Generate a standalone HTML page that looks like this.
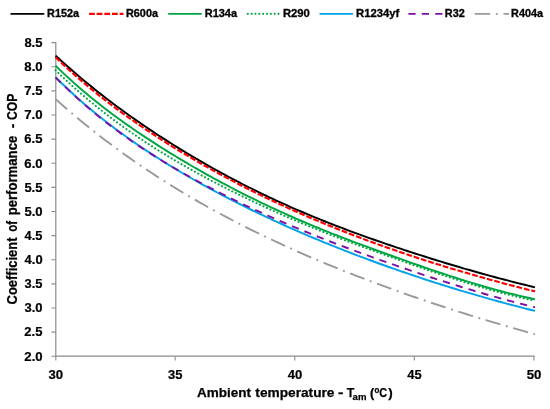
<!DOCTYPE html>
<html><head><meta charset="utf-8"><title>COP vs ambient temperature</title>
<style>
html,body{margin:0;padding:0;background:#fff;}
svg{display:block;}
text{font-family:"Liberation Sans",sans-serif;font-weight:bold;fill:#000;}
</style></head><body>
<svg xmlns="http://www.w3.org/2000/svg" width="550" height="409" viewBox="0 0 550 409">
<rect width="550" height="409" fill="#fff"/>
<g>
<path d="M55.80 42.10 V356.20 H534.60" fill="none" stroke="#8c8c8c" stroke-width="1.2"/>
<path d="M55.80 42.60 h-4.4 M55.80 66.72 h-4.4 M55.80 90.85 h-4.4 M55.80 114.97 h-4.4 M55.80 139.09 h-4.4 M55.80 163.22 h-4.4 M55.80 187.34 h-4.4 M55.80 211.46 h-4.4 M55.80 235.58 h-4.4 M55.80 259.71 h-4.4 M55.80 283.83 h-4.4 M55.80 307.95 h-4.4 M55.80 332.08 h-4.4 M55.80 356.20 h-4.4 M55.80 356.20 v4.4 M175.17 356.20 v4.4 M294.75 356.20 v4.4 M414.32 356.20 v4.4 M533.90 356.20 v4.4 " fill="none" stroke="#8c8c8c" stroke-width="1.1"/>
</g>
<g>
<path d="M55.60 55.60 L59.05 58.78 L62.50 61.92 L65.95 65.01 L69.40 68.07 L72.84 71.09 L76.29 74.06 L79.74 77.00 L83.19 79.90 L86.64 82.76 L90.09 85.59 L93.54 88.38 L96.99 91.14 L100.44 93.86 L103.88 96.55 L107.33 99.21 L110.78 101.84 L114.23 104.43 L117.68 107.00 L121.13 109.53 L124.58 112.04 L128.03 114.52 L131.48 116.97 L134.93 119.39 L138.37 121.79 L141.82 124.17 L145.27 126.52 L148.72 128.85 L152.17 131.15 L155.62 133.44 L159.07 135.70 L162.52 137.94 L165.97 140.16 L169.41 142.35 L172.86 144.53 L176.31 146.68 L179.76 148.81 L183.21 150.93 L186.66 153.02 L190.11 155.09 L193.56 157.14 L197.01 159.16 L200.45 161.17 L203.90 163.16 L207.35 165.13 L210.80 167.08 L214.25 169.01 L217.70 170.92 L221.15 172.81 L224.60 174.68 L228.05 176.53 L231.49 178.36 L234.94 180.18 L238.39 181.97 L241.84 183.75 L245.29 185.51 L248.74 187.25 L252.19 188.97 L255.64 190.67 L259.09 192.36 L262.54 194.03 L265.98 195.68 L269.43 197.32 L272.88 198.93 L276.33 200.53 L279.78 202.12 L283.23 203.68 L286.68 205.23 L290.13 206.77 L293.58 208.29 L297.02 209.79 L300.47 211.27 L303.92 212.74 L307.37 214.20 L310.82 215.64 L314.27 217.06 L317.72 218.47 L321.17 219.87 L324.62 221.25 L328.06 222.61 L331.51 223.97 L334.96 225.31 L338.41 226.63 L341.86 227.95 L345.31 229.25 L348.76 230.54 L352.21 231.82 L355.66 233.09 L359.11 234.35 L362.55 235.59 L366.00 236.83 L369.45 238.05 L372.90 239.27 L376.35 240.48 L379.80 241.68 L383.25 242.87 L386.70 244.05 L390.15 245.22 L393.59 246.39 L397.04 247.55 L400.49 248.70 L403.94 249.84 L407.39 250.98 L410.84 252.10 L414.29 253.22 L417.74 254.34 L421.19 255.44 L424.63 256.54 L428.08 257.62 L431.53 258.71 L434.98 259.78 L438.43 260.84 L441.88 261.90 L445.33 262.95 L448.78 263.99 L452.23 265.02 L455.67 266.05 L459.12 267.06 L462.57 268.07 L466.02 269.07 L469.47 270.06 L472.92 271.05 L476.37 272.02 L479.82 272.99 L483.27 273.95 L486.72 274.90 L490.16 275.85 L493.61 276.78 L497.06 277.71 L500.51 278.62 L503.96 279.53 L507.41 280.43 L510.86 281.33 L514.31 282.21 L517.76 283.09 L521.20 283.95 L524.65 284.81 L528.10 285.66 L531.55 286.50 L535.00 287.33" fill="none" stroke="#000000" stroke-width="1.95" stroke-linejoin="round"/>
<path d="M55.60 57.30 L59.05 60.61 L62.50 63.87 L65.95 67.08 L69.40 70.24 L72.84 73.34 L76.29 76.40 L79.74 79.40 L83.19 82.36 L86.64 85.28 L90.09 88.15 L93.54 90.97 L96.99 93.76 L100.44 96.50 L103.88 99.20 L107.33 101.87 L110.78 104.50 L114.23 107.09 L117.68 109.65 L121.13 112.17 L124.58 114.66 L128.03 117.13 L131.48 119.56 L134.93 121.96 L138.37 124.34 L141.82 126.68 L145.27 129.01 L148.72 131.31 L152.17 133.59 L155.62 135.85 L159.07 138.08 L162.52 140.29 L165.97 142.49 L169.41 144.66 L172.86 146.81 L176.31 148.94 L179.76 151.05 L183.21 153.14 L186.66 155.21 L190.11 157.26 L193.56 159.29 L197.01 161.30 L200.45 163.29 L203.90 165.26 L207.35 167.21 L210.80 169.15 L214.25 171.06 L217.70 172.96 L221.15 174.84 L224.60 176.70 L228.05 178.54 L231.49 180.37 L234.94 182.18 L238.39 183.97 L241.84 185.75 L245.29 187.50 L248.74 189.25 L252.19 190.97 L255.64 192.68 L259.09 194.37 L262.54 196.05 L265.98 197.71 L269.43 199.36 L272.88 200.99 L276.33 202.60 L279.78 204.20 L283.23 205.79 L286.68 207.36 L290.13 208.92 L293.58 210.46 L297.02 211.99 L300.47 213.51 L303.92 215.01 L307.37 216.50 L310.82 217.98 L314.27 219.44 L317.72 220.89 L321.17 222.33 L324.62 223.75 L328.06 225.17 L331.51 226.57 L334.96 227.95 L338.41 229.33 L341.86 230.70 L345.31 232.05 L348.76 233.39 L352.21 234.72 L355.66 236.04 L359.11 237.34 L362.55 238.64 L366.00 239.92 L369.45 241.20 L372.90 242.46 L376.35 243.71 L379.80 244.95 L383.25 246.18 L386.70 247.40 L390.15 248.61 L393.59 249.82 L397.04 251.01 L400.49 252.19 L403.94 253.36 L407.39 254.52 L410.84 255.67 L414.29 256.81 L417.74 257.94 L421.19 259.07 L424.63 260.18 L428.08 261.28 L431.53 262.38 L434.98 263.46 L438.43 264.54 L441.88 265.61 L445.33 266.67 L448.78 267.72 L452.23 268.76 L455.67 269.79 L459.12 270.82 L462.57 271.84 L466.02 272.84 L469.47 273.84 L472.92 274.84 L476.37 275.82 L479.82 276.79 L483.27 277.76 L486.72 278.72 L490.16 279.67 L493.61 280.62 L497.06 281.56 L500.51 282.48 L503.96 283.41 L507.41 284.32 L510.86 285.23 L514.31 286.13 L517.76 287.02 L521.20 287.91 L524.65 288.79 L528.10 289.66 L531.55 290.52 L535.00 291.38" fill="none" stroke="#FF0000" stroke-width="2.1" stroke-linejoin="round" stroke-dasharray="5.74 1.91"/>
<path d="M55.60 65.80 L59.05 69.13 L62.50 72.40 L65.95 75.61 L69.40 78.77 L72.84 81.87 L76.29 84.93 L79.74 87.93 L83.19 90.89 L86.64 93.79 L90.09 96.65 L93.54 99.47 L96.99 102.24 L100.44 104.97 L103.88 107.65 L107.33 110.30 L110.78 112.91 L114.23 115.48 L117.68 118.01 L121.13 120.51 L124.58 122.98 L128.03 125.41 L131.48 127.82 L134.93 130.19 L138.37 132.54 L141.82 134.86 L145.27 137.15 L148.72 139.42 L152.17 141.67 L155.62 143.89 L159.07 146.10 L162.52 148.28 L165.97 150.44 L169.41 152.58 L172.86 154.69 L176.31 156.79 L179.76 158.87 L183.21 160.93 L186.66 162.96 L190.11 164.98 L193.56 166.98 L197.01 168.96 L200.45 170.92 L203.90 172.86 L207.35 174.78 L210.80 176.69 L214.25 178.58 L217.70 180.45 L221.15 182.30 L224.60 184.14 L228.05 185.96 L231.49 187.76 L234.94 189.55 L238.39 191.32 L241.84 193.07 L245.29 194.81 L248.74 196.54 L252.19 198.24 L255.64 199.93 L259.09 201.61 L262.54 203.27 L265.98 204.91 L269.43 206.54 L272.88 208.15 L276.33 209.75 L279.78 211.34 L283.23 212.90 L286.68 214.45 L290.13 215.99 L293.58 217.51 L297.02 219.02 L300.47 220.51 L303.92 221.99 L307.37 223.45 L310.82 224.90 L314.27 226.33 L317.72 227.75 L321.17 229.16 L324.62 230.55 L328.06 231.93 L331.51 233.30 L334.96 234.66 L338.41 236.00 L341.86 237.34 L345.31 238.66 L348.76 239.98 L352.21 241.29 L355.66 242.59 L359.11 243.88 L362.55 245.16 L366.00 246.44 L369.45 247.71 L372.90 248.97 L376.35 250.23 L379.80 251.49 L383.25 252.74 L386.70 253.98 L390.15 255.23 L393.59 256.47 L397.04 257.70 L400.49 258.94 L403.94 260.17 L407.39 261.39 L410.84 262.61 L414.29 263.83 L417.74 265.03 L421.19 266.23 L424.63 267.43 L428.08 268.62 L431.53 269.80 L434.98 270.97 L438.43 272.13 L441.88 273.28 L445.33 274.43 L448.78 275.56 L452.23 276.68 L455.67 277.80 L459.12 278.90 L462.57 279.98 L466.02 281.06 L469.47 282.12 L472.92 283.17 L476.37 284.21 L479.82 285.23 L483.27 286.24 L486.72 287.23 L490.16 288.21 L493.61 289.17 L497.06 290.11 L500.51 291.04 L503.96 291.95 L507.41 292.84 L510.86 293.72 L514.31 294.57 L517.76 295.41 L521.20 296.22 L524.65 297.02 L528.10 297.79 L531.55 298.55 L535.00 299.28" fill="none" stroke="#00A641" stroke-width="1.95" stroke-linejoin="round"/>
<path d="M55.60 70.32 L59.05 73.65 L62.50 76.92 L65.95 80.14 L69.40 83.31 L72.84 86.43 L76.29 89.49 L79.74 92.51 L83.19 95.49 L86.64 98.41 L90.09 101.29 L93.54 104.13 L96.99 106.92 L100.44 109.67 L103.88 112.37 L107.33 115.04 L110.78 117.67 L114.23 120.25 L117.68 122.80 L121.13 125.31 L124.58 127.79 L128.03 130.23 L131.48 132.63 L134.93 135.00 L138.37 137.34 L141.82 139.65 L145.27 141.93 L148.72 144.17 L152.17 146.39 L155.62 148.58 L159.07 150.74 L162.52 152.88 L165.97 154.99 L169.41 157.08 L172.86 159.14 L176.31 161.17 L179.76 163.18 L183.21 165.17 L186.66 167.14 L190.11 169.09 L193.56 171.01 L197.01 172.91 L200.45 174.80 L203.90 176.66 L207.35 178.51 L210.80 180.34 L214.25 182.15 L217.70 183.94 L221.15 185.72 L224.60 187.48 L228.05 189.23 L231.49 190.96 L234.94 192.68 L238.39 194.38 L241.84 196.07 L245.29 197.75 L248.74 199.41 L252.19 201.06 L255.64 202.70 L259.09 204.32 L262.54 205.93 L265.98 207.52 L269.43 209.10 L272.88 210.67 L276.33 212.22 L279.78 213.76 L283.23 215.28 L286.68 216.79 L290.13 218.29 L293.58 219.77 L297.02 221.24 L300.47 222.69 L303.92 224.13 L307.37 225.56 L310.82 226.97 L314.27 228.37 L317.72 229.76 L321.17 231.13 L324.62 232.49 L328.06 233.84 L331.51 235.18 L334.96 236.51 L338.41 237.83 L341.86 239.13 L345.31 240.43 L348.76 241.73 L352.21 243.01 L355.66 244.29 L359.11 245.56 L362.55 246.82 L366.00 248.08 L369.45 249.33 L372.90 250.58 L376.35 251.83 L379.80 253.07 L383.25 254.31 L386.70 255.54 L390.15 256.78 L393.59 258.01 L397.04 259.24 L400.49 260.47 L403.94 261.70 L407.39 262.92 L410.84 264.14 L414.29 265.35 L417.74 266.56 L421.19 267.77 L424.63 268.96 L428.08 270.15 L431.53 271.34 L434.98 272.51 L438.43 273.68 L441.88 274.84 L445.33 275.99 L448.78 277.13 L452.23 278.26 L455.67 279.37 L459.12 280.48 L462.57 281.57 L466.02 282.65 L469.47 283.72 L472.92 284.78 L476.37 285.82 L479.82 286.84 L483.27 287.85 L486.72 288.84 L490.16 289.82 L493.61 290.78 L497.06 291.72 L500.51 292.65 L503.96 293.55 L507.41 294.44 L510.86 295.31 L514.31 296.15 L517.76 296.98 L521.20 297.78 L524.65 298.57 L528.10 299.33 L531.55 300.06 L535.00 300.77" fill="none" stroke="#00A641" stroke-width="2.1" stroke-linejoin="round" stroke-dasharray="0.01 3.83" stroke-linecap="round"/>
<path d="M55.60 77.30 L59.05 80.70 L62.50 84.04 L65.95 87.33 L69.40 90.55 L72.84 93.73 L76.29 96.85 L79.74 99.91 L83.19 102.93 L86.64 105.89 L90.09 108.81 L93.54 111.68 L96.99 114.50 L100.44 117.28 L103.88 120.01 L107.33 122.70 L110.78 125.35 L114.23 127.96 L117.68 130.53 L121.13 133.06 L124.58 135.55 L128.03 138.01 L131.48 140.44 L134.93 142.84 L138.37 145.20 L141.82 147.53 L145.27 149.83 L148.72 152.11 L152.17 154.36 L155.62 156.58 L159.07 158.78 L162.52 160.96 L165.97 163.11 L169.41 165.23 L172.86 167.33 L176.31 169.41 L179.76 171.47 L183.21 173.51 L186.66 175.52 L190.11 177.51 L193.56 179.48 L197.01 181.43 L200.45 183.36 L203.90 185.28 L207.35 187.17 L210.80 189.04 L214.25 190.90 L217.70 192.74 L221.15 194.56 L224.60 196.37 L228.05 198.15 L231.49 199.93 L234.94 201.68 L238.39 203.43 L241.84 205.15 L245.29 206.87 L248.74 208.56 L252.19 210.25 L255.64 211.91 L259.09 213.57 L262.54 215.21 L265.98 216.84 L269.43 218.45 L272.88 220.05 L276.33 221.63 L279.78 223.21 L283.23 224.76 L286.68 226.31 L290.13 227.85 L293.58 229.37 L297.02 230.88 L300.47 232.37 L303.92 233.86 L307.37 235.33 L310.82 236.79 L314.27 238.24 L317.72 239.68 L321.17 241.11 L324.62 242.53 L328.06 243.93 L331.51 245.33 L334.96 246.71 L338.41 248.08 L341.86 249.45 L345.31 250.80 L348.76 252.14 L352.21 253.47 L355.66 254.79 L359.11 256.10 L362.55 257.40 L366.00 258.70 L369.45 259.98 L372.90 261.25 L376.35 262.51 L379.80 263.76 L383.25 265.01 L386.70 266.24 L390.15 267.47 L393.59 268.68 L397.04 269.89 L400.49 271.09 L403.94 272.28 L407.39 273.45 L410.84 274.63 L414.29 275.79 L417.74 276.94 L421.19 278.08 L424.63 279.22 L428.08 280.35 L431.53 281.46 L434.98 282.57 L438.43 283.67 L441.88 284.76 L445.33 285.84 L448.78 286.92 L452.23 287.98 L455.67 289.04 L459.12 290.08 L462.57 291.12 L466.02 292.15 L469.47 293.17 L472.92 294.18 L476.37 295.18 L479.82 296.18 L483.27 297.16 L486.72 298.14 L490.16 299.11 L493.61 300.07 L497.06 301.02 L500.51 301.96 L503.96 302.90 L507.41 303.82 L510.86 304.74 L514.31 305.64 L517.76 306.54 L521.20 307.43 L524.65 308.32 L528.10 309.19 L531.55 310.06 L535.00 310.91" fill="none" stroke="#00A2E8" stroke-width="1.95" stroke-linejoin="round"/>
<path d="M55.60 77.36 L59.05 80.84 L62.50 84.26 L65.95 87.61 L69.40 90.90 L72.84 94.13 L76.29 97.30 L79.74 100.41 L83.19 103.46 L86.64 106.45 L90.09 109.39 L93.54 112.28 L96.99 115.11 L100.44 117.89 L103.88 120.63 L107.33 123.32 L110.78 125.96 L114.23 128.55 L117.68 131.11 L121.13 133.62 L124.58 136.09 L128.03 138.52 L131.48 140.92 L134.93 143.27 L138.37 145.60 L141.82 147.89 L145.27 150.15 L148.72 152.38 L152.17 154.58 L155.62 156.75 L159.07 158.90 L162.52 161.02 L165.97 163.11 L169.41 165.18 L172.86 167.22 L176.31 169.24 L179.76 171.23 L183.21 173.20 L186.66 175.15 L190.11 177.07 L193.56 178.97 L197.01 180.86 L200.45 182.72 L203.90 184.56 L207.35 186.38 L210.80 188.18 L214.25 189.96 L217.70 191.73 L221.15 193.48 L224.60 195.21 L228.05 196.92 L231.49 198.62 L234.94 200.31 L238.39 201.98 L241.84 203.63 L245.29 205.27 L248.74 206.89 L252.19 208.50 L255.64 210.10 L259.09 211.68 L262.54 213.25 L265.98 214.80 L269.43 216.34 L272.88 217.87 L276.33 219.38 L279.78 220.89 L283.23 222.38 L286.68 223.85 L290.13 225.32 L293.58 226.77 L297.02 228.21 L300.47 229.64 L303.92 231.06 L307.37 232.46 L310.82 233.86 L314.27 235.24 L317.72 236.62 L321.17 237.98 L324.62 239.33 L328.06 240.68 L331.51 242.01 L334.96 243.34 L338.41 244.65 L341.86 245.96 L345.31 247.26 L348.76 248.55 L352.21 249.83 L355.66 251.10 L359.11 252.37 L362.55 253.63 L366.00 254.88 L369.45 256.12 L372.90 257.36 L376.35 258.59 L379.80 259.82 L383.25 261.03 L386.70 262.25 L390.15 263.45 L393.59 264.66 L397.04 265.85 L400.49 267.04 L403.94 268.23 L407.39 269.41 L410.84 270.58 L414.29 271.75 L417.74 272.91 L421.19 274.06 L424.63 275.21 L428.08 276.35 L431.53 277.48 L434.98 278.61 L438.43 279.73 L441.88 280.84 L445.33 281.94 L448.78 283.03 L452.23 284.12 L455.67 285.20 L459.12 286.27 L462.57 287.33 L466.02 288.38 L469.47 289.43 L472.92 290.46 L476.37 291.49 L479.82 292.50 L483.27 293.51 L486.72 294.51 L490.16 295.49 L493.61 296.47 L497.06 297.44 L500.51 298.39 L503.96 299.34 L507.41 300.27 L510.86 301.20 L514.31 302.11 L517.76 303.01 L521.20 303.90 L524.65 304.78 L528.10 305.65 L531.55 306.50 L535.00 307.35" fill="none" stroke="#7F0FA3" stroke-width="1.9" stroke-linejoin="round" stroke-dasharray="7.28 6.11"/>
<path d="M55.60 99.05 L59.05 102.13 L62.50 105.18 L65.95 108.20 L69.40 111.17 L72.84 114.12 L76.29 117.03 L79.74 119.90 L83.19 122.75 L86.64 125.56 L90.09 128.33 L93.54 131.08 L96.99 133.79 L100.44 136.48 L103.88 139.13 L107.33 141.75 L110.78 144.34 L114.23 146.91 L117.68 149.44 L121.13 151.95 L124.58 154.43 L128.03 156.88 L131.48 159.31 L134.93 161.71 L138.37 164.08 L141.82 166.43 L145.27 168.75 L148.72 171.05 L152.17 173.33 L155.62 175.58 L159.07 177.80 L162.52 180.01 L165.97 182.19 L169.41 184.35 L172.86 186.49 L176.31 188.60 L179.76 190.70 L183.21 192.77 L186.66 194.82 L190.11 196.86 L193.56 198.87 L197.01 200.86 L200.45 202.83 L203.90 204.78 L207.35 206.72 L210.80 208.63 L214.25 210.53 L217.70 212.41 L221.15 214.27 L224.60 216.12 L228.05 217.94 L231.49 219.75 L234.94 221.55 L238.39 223.33 L241.84 225.09 L245.29 226.83 L248.74 228.56 L252.19 230.28 L255.64 231.98 L259.09 233.66 L262.54 235.33 L265.98 236.99 L269.43 238.63 L272.88 240.26 L276.33 241.87 L279.78 243.47 L283.23 245.06 L286.68 246.63 L290.13 248.19 L293.58 249.73 L297.02 251.27 L300.47 252.79 L303.92 254.30 L307.37 255.79 L310.82 257.28 L314.27 258.75 L317.72 260.21 L321.17 261.66 L324.62 263.10 L328.06 264.53 L331.51 265.95 L334.96 267.35 L338.41 268.75 L341.86 270.13 L345.31 271.51 L348.76 272.87 L352.21 274.22 L355.66 275.57 L359.11 276.90 L362.55 278.22 L366.00 279.54 L369.45 280.84 L372.90 282.14 L376.35 283.42 L379.80 284.70 L383.25 285.97 L386.70 287.23 L390.15 288.48 L393.59 289.72 L397.04 290.95 L400.49 292.18 L403.94 293.39 L407.39 294.60 L410.84 295.80 L414.29 296.99 L417.74 298.18 L421.19 299.35 L424.63 300.52 L428.08 301.68 L431.53 302.84 L434.98 303.98 L438.43 305.12 L441.88 306.25 L445.33 307.37 L448.78 308.49 L452.23 309.60 L455.67 310.70 L459.12 311.80 L462.57 312.88 L466.02 313.97 L469.47 315.04 L472.92 316.11 L476.37 317.17 L479.82 318.23 L483.27 319.28 L486.72 320.32 L490.16 321.36 L493.61 322.39 L497.06 323.41 L500.51 324.43 L503.96 325.44 L507.41 326.45 L510.86 327.45 L514.31 328.45 L517.76 329.44 L521.20 330.43 L524.65 331.41 L528.10 332.38 L531.55 333.35 L535.00 334.32" fill="none" stroke="#999999" stroke-width="1.9" stroke-linejoin="round" stroke-dasharray="15.3 5.74 1.9 5.74"/>
</g>
<g>
<text x="24.40" y="46.90" font-size="12.4" textLength="18.06" lengthAdjust="spacingAndGlyphs" stroke="#000" stroke-width="0.2">8.5</text>
<text x="24.39" y="71.02" font-size="12.4" textLength="18.23" lengthAdjust="spacingAndGlyphs" stroke="#000" stroke-width="0.2">8.0</text>
<text x="24.25" y="95.15" font-size="12.4" textLength="18.21" lengthAdjust="spacingAndGlyphs" stroke="#000" stroke-width="0.2">7.5</text>
<text x="24.24" y="119.27" font-size="12.4" textLength="18.39" lengthAdjust="spacingAndGlyphs" stroke="#000" stroke-width="0.2">7.0</text>
<text x="24.33" y="143.39" font-size="12.4" textLength="18.12" lengthAdjust="spacingAndGlyphs" stroke="#000" stroke-width="0.2">6.5</text>
<text x="24.33" y="167.52" font-size="12.4" textLength="18.30" lengthAdjust="spacingAndGlyphs" stroke="#000" stroke-width="0.2">6.0</text>
<text x="24.41" y="191.64" font-size="12.4" textLength="18.04" lengthAdjust="spacingAndGlyphs" stroke="#000" stroke-width="0.2">5.5</text>
<text x="24.41" y="215.76" font-size="12.4" textLength="18.22" lengthAdjust="spacingAndGlyphs" stroke="#000" stroke-width="0.2">5.0</text>
<text x="24.61" y="239.88" font-size="12.4" textLength="17.84" lengthAdjust="spacingAndGlyphs" stroke="#000" stroke-width="0.2">4.5</text>
<text x="24.61" y="264.01" font-size="12.4" textLength="18.01" lengthAdjust="spacingAndGlyphs" stroke="#000" stroke-width="0.2">4.0</text>
<text x="24.52" y="288.13" font-size="12.4" textLength="17.93" lengthAdjust="spacingAndGlyphs" stroke="#000" stroke-width="0.2">3.5</text>
<text x="24.51" y="312.25" font-size="12.4" textLength="18.11" lengthAdjust="spacingAndGlyphs" stroke="#000" stroke-width="0.2">3.0</text>
<text x="24.36" y="336.38" font-size="12.4" textLength="18.10" lengthAdjust="spacingAndGlyphs" stroke="#000" stroke-width="0.2">2.5</text>
<text x="24.35" y="360.50" font-size="12.4" textLength="18.27" lengthAdjust="spacingAndGlyphs" stroke="#000" stroke-width="0.2">2.0</text>
<text x="48.51" y="378.50" font-size="12.4" textLength="14.62" lengthAdjust="spacingAndGlyphs" stroke="#000" stroke-width="0.2">30</text>
<text x="168.09" y="378.50" font-size="12.4" textLength="14.44" lengthAdjust="spacingAndGlyphs" stroke="#000" stroke-width="0.2">35</text>
<text x="287.75" y="378.50" font-size="12.4" textLength="14.52" lengthAdjust="spacingAndGlyphs" stroke="#000" stroke-width="0.2">40</text>
<text x="407.33" y="378.50" font-size="12.4" textLength="14.35" lengthAdjust="spacingAndGlyphs" stroke="#000" stroke-width="0.2">45</text>
<text x="526.70" y="378.50" font-size="12.4" textLength="14.73" lengthAdjust="spacingAndGlyphs" stroke="#000" stroke-width="0.2">50</text>
</g>
<g>
<path d="M11.20 13.85 H43.50" stroke="#000000" stroke-width="1.95" stroke-linecap="round"/>
<text x="47.08" y="17.30" font-size="10" textLength="31.99" lengthAdjust="spacingAndGlyphs" stroke="#000" stroke-width="0.3">R152a</text>
<path d="M89.05 13.85 H123.45" stroke="#FF0000" stroke-width="2.1" stroke-dasharray="5.74 1.91"/>
<text x="126.03" y="17.30" font-size="10" textLength="31.94" lengthAdjust="spacingAndGlyphs" stroke="#000" stroke-width="0.3">R600a</text>
<path d="M168.85 13.85 H201.00" stroke="#00A641" stroke-width="1.95" stroke-linecap="round"/>
<text x="204.73" y="17.30" font-size="10" textLength="32.35" lengthAdjust="spacingAndGlyphs" stroke="#000" stroke-width="0.3">R134a</text>
<path d="M247.80 13.85 H281.00" stroke="#00A641" stroke-width="2.1" stroke-dasharray="0.01 3.83" stroke-linecap="round"/>
<text x="282.90" y="17.30" font-size="10" textLength="27.00" lengthAdjust="spacingAndGlyphs" stroke="#000" stroke-width="0.3">R290</text>
<path d="M320.30 13.85 H352.30" stroke="#00A2E8" stroke-width="1.95" stroke-linecap="round"/>
<text x="356.11" y="17.30" font-size="10" textLength="43.22" lengthAdjust="spacingAndGlyphs" stroke="#000" stroke-width="0.3">R1234yf</text>
<path d="M408.40 13.85 H442.70" stroke="#7F0FA3" stroke-width="1.9" stroke-dasharray="7.28 6.11"/>
<text x="444.83" y="17.30" font-size="10" textLength="19.95" lengthAdjust="spacingAndGlyphs" stroke="#000" stroke-width="0.3">R32</text>
<path d="M474.80 13.85 H509.00" stroke="#999999" stroke-width="1.9" stroke-dasharray="15.3 5.74 1.9 5.74"/>
<text x="511.13" y="17.30" font-size="10" textLength="31.94" lengthAdjust="spacingAndGlyphs" stroke="#000" stroke-width="0.3">R404a</text>
</g>
<g>
<text x="196.98" y="396.60" font-size="13" textLength="54.09" lengthAdjust="spacingAndGlyphs" stroke="#000" stroke-width="0.25">Ambient</text>
<text x="255.34" y="396.60" font-size="13" textLength="79.13" lengthAdjust="spacingAndGlyphs" stroke="#000" stroke-width="0.25">temperature</text>
<text x="337.96" y="397.40" font-size="13" textLength="5.51" lengthAdjust="spacingAndGlyphs" stroke="#000" stroke-width="0.25">-</text>
<text x="346.76" y="396.60" font-size="13" textLength="7.56" lengthAdjust="spacingAndGlyphs" stroke="#000" stroke-width="0.25">T</text>
<text x="352.62" y="400.20" font-size="9.4" textLength="13.87" lengthAdjust="spacingAndGlyphs" stroke="#000" stroke-width="0.25">am</text>
<text x="369.88" y="396.60" font-size="13" textLength="4.24" lengthAdjust="spacingAndGlyphs" stroke="#000" stroke-width="0.25">(</text>
<text x="374.49" y="392.50" font-size="8.8" textLength="4.81" lengthAdjust="spacingAndGlyphs" stroke="#000" stroke-width="0.25">o</text>
<text x="379.15" y="396.60" font-size="13" textLength="7.84" lengthAdjust="spacingAndGlyphs" stroke="#000" stroke-width="0.25">C</text>
<text x="388.29" y="396.60" font-size="13" textLength="4.47" lengthAdjust="spacingAndGlyphs" stroke="#000" stroke-width="0.25">)</text>
<g transform="translate(17.0 304.2) rotate(-90)">
<text x="-0.23" y="0.00" font-size="13.8" textLength="66.89" lengthAdjust="spacingAndGlyphs" stroke="#000" stroke-width="0.25">Coefficient</text>
<text x="72.35" y="0.00" font-size="13.8" textLength="10.82" lengthAdjust="spacingAndGlyphs" stroke="#000" stroke-width="0.25">of</text>
<text x="88.85" y="0.00" font-size="13.8" textLength="79.61" lengthAdjust="spacingAndGlyphs" stroke="#000" stroke-width="0.25">performance</text>
<text x="175.86" y="0.00" font-size="13.8" textLength="4.59" lengthAdjust="spacingAndGlyphs" stroke="#000" stroke-width="0.25">-</text>
<text x="184.20" y="0.00" font-size="13.8" textLength="26.31" lengthAdjust="spacingAndGlyphs" stroke="#000" stroke-width="0.25">COP</text>
</g>
</g>
</svg>
</body></html>
